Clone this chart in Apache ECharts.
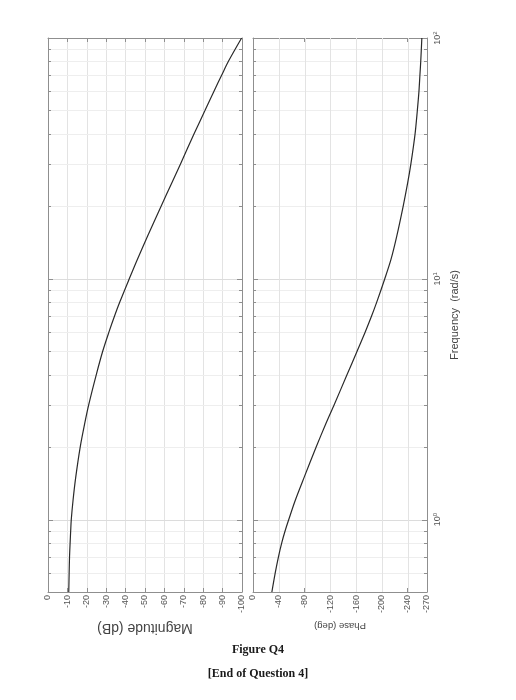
<!DOCTYPE html>
<html><head><meta charset="utf-8">
<script src="https://cdn.jsdelivr.net/npm/echarts@6/dist/echarts.min.js"></script>
<style>html,body{margin:0;padding:0;background:#fff}#c{width:516px;height:700px}</style>
</head><body><div id="c"></div>
<script>
// Frequency samples (rad/s)
const freq = [0.5,0.6,0.7,0.8,0.9,1,1.2,1.5,2,2.5,3,4,5,6,7,8,10,12,15,20,25,30,40,50,60,70,80,100];
// Magnitude (dB)
const magnitude = [-10.7,-10.9,-11.1,-11.4,-11.7,-12.0,-12.9,-14.3,-16.6,-18.9,-21.0,-24.9,-28.2,-31.4,-34.3,-37.0,-41.9,-46.0,-51.3,-58.3,-63.8,-68.3,-75.3,-80.9,-85.5,-89.5,-93.0,-99.8];
// Phase (deg)
const phase = [-29.3,-34.5,-39.5,-44.6,-50.0,-55.5,-65.5,-79.5,-98,-113,-126,-146,-161.5,-174,-184,-192,-204.5,-214,-223,-233,-240,-245,-251.5,-255,-257.5,-259,-260.3,-262];
// Tick values
const magTicks = [0,-10,-20,-30,-40,-50,-60,-70,-80,-90,-100];
const phaseTicks = [0,-40,-80,-120,-160,-200,-240,-270];
const freqGridLines = [0.6,0.7,0.8,0.9,1,2,3,4,5,6,7,8,9,10,20,30,40,50,60,70,80,90];
const freqMajor = [1,10];

const FONT = '"Liberation Sans", Arial, sans-serif';
const AX = '#8f8f8f';

function hGrid(xLeft, xRight){
  return function(params, api){
    const f = api.value(1);
    const a = api.coord([xLeft, f]);
    const b = api.coord([xRight, f]);
    const y = Math.round(a[1]) + 0.5;
    const major = freqMajor.indexOf(f) >= 0;
    const tl = major ? 5 : 3;
    return {type:'group', children:[
      {type:'line', shape:{x1:a[0], y1:y, x2:b[0], y2:y}, style:{stroke: major ? '#dcdcdc' : '#eeeeee', lineWidth:1}},
      {type:'line', shape:{x1:a[0], y1:y, x2:a[0]+tl, y2:y}, style:{stroke:AX, lineWidth:1}},
      {type:'line', shape:{x1:b[0], y1:y, x2:b[0]-tl, y2:y}, style:{stroke:AX, lineWidth:1}}
    ]};
  };
}
function vGrid(params, api){
  const v = api.value(0);
  const a = api.coord([v, 0.5]);
  const b = api.coord([v, 100]);
  const x = Math.round(a[0]) + 0.5;
  return {type:'line', shape:{x1:x, y1:a[1], x2:x, y2:b[1]}, style:{stroke:'#e3e3e3', lineWidth:1}};
}

function valueAxis(gridIndex, pos, min, ticks, showLabel, name){
  const ax = {
    type:'value', gridIndex, position:pos, min, max:0, inverse:true,
    axisLine:{show:true, onZero:false, lineStyle:{color:AX, width:1}},
    axisTick:{show:true, inside:true, length:4, lineStyle:{color:AX}},
    axisLabel:{show:showLabel, rotate:90, fontSize:9, color:'#555', margin:3, fontFamily:FONT},
    splitLine:{show:false}
  };
  if (min === -100){
    ax.interval = 10;
    if (pos === 'bottom') ax.splitLine = {show:true, lineStyle:{color:'#e3e3e3'}};
  } else {
    ax.axisLabel.customValues = ticks;
    ax.axisTick.customValues = ticks;
  }
  if (name){
    ax.name = name; ax.nameLocation = 'middle'; ax.nameRotate = 180; ax.nameGap = 25;
    ax.nameTextStyle = {fontSize: min === -100 ? 14 : 9.5, color:'#444', fontFamily:FONT};
  }
  return ax;
}
function logAxis(gridIndex, pos, labels){
  const ax = {
    type:'log', logBase:10, gridIndex, position:pos, min:0.5, max:100,
    axisLine:{show:true, onZero:false, lineStyle:{color:AX, width:1}},
    axisTick:{show:false}, splitLine:{show:false},
    axisLabel:{show:false}
  };
  if (labels){
    ax.axisLabel = {
      show:true, rotate:90, margin:5, color:'#555', fontFamily:FONT,
      formatter: function(v){
        const e = Math.log10(v);
        if (Math.abs(e - Math.round(e)) < 1e-6) return '{b|10}{s|' + Math.round(e) + '}';
        return '';
      },
      rich:{ b:{fontSize:9, color:'#555', fontFamily:FONT}, s:{fontSize:6, color:'#555', padding:[0,0,6,0], fontFamily:FONT} }
    };
    ax.name = 'Frequency  (rad/s)';
    ax.nameLocation = 'middle';
    ax.nameRotate = 90;
    ax.nameGap = 22;
    ax.nameTextStyle = {fontSize:11, color:'#444', fontFamily:FONT};
  }
  return ax;
}

const chart = echarts.init(document.getElementById('c'));
chart.setOption({
  backgroundColor:'#fff',
  animation:false,
  grid:[
    {left:48, top:38, width:194, height:554},
    {left:253, top:38, width:174, height:554}
  ],
  xAxis:[
    valueAxis(0,'bottom',-100,magTicks,true,'Magnitude (dB)'),
    valueAxis(0,'top',-100,magTicks,false,null),
    valueAxis(1,'bottom',-270,phaseTicks,true,'Phase (deg)'),
    valueAxis(1,'top',-270,phaseTicks,false,null)
  ],
  yAxis:[
    logAxis(0,'left',false),
    logAxis(0,'right',false),
    logAxis(1,'left',false),
    logAxis(1,'right',true)
  ],
  graphic:[
    {type:'text', left:'center', top:644, style:{text:'Figure Q4', font:'bold 12px "Liberation Serif", serif', fill:'#1a1a1a'}},
    {type:'text', left:'center', top:668, style:{text:'[End of Question 4]', font:'bold 12px "Liberation Serif", serif', fill:'#1a1a1a'}}
  ],
  series:[
    {type:'custom', xAxisIndex:0, yAxisIndex:0, silent:true, z:1, renderItem:hGrid(0,-100), data:freqGridLines.map(f=>[0,f])},
    {type:'custom', xAxisIndex:2, yAxisIndex:2, silent:true, z:1, renderItem:hGrid(0,-270), data:freqGridLines.map(f=>[0,f])},
    {type:'custom', xAxisIndex:2, yAxisIndex:2, silent:true, z:1, renderItem:vGrid, data:phaseTicks.slice(1,-1).map(v=>[v,1])},
    {type:'line', xAxisIndex:0, yAxisIndex:0, z:5, smooth:0.3, showSymbol:false, silent:true,
      lineStyle:{color:'#2a2a2a', width:1.2}, data:freq.map((f,i)=>[magnitude[i], f])},
    {type:'line', xAxisIndex:2, yAxisIndex:2, z:5, smooth:0.3, showSymbol:false, silent:true,
      lineStyle:{color:'#2a2a2a', width:1.2}, data:freq.map((f,i)=>[phase[i], f])}
  ]
});
</script></body></html>
